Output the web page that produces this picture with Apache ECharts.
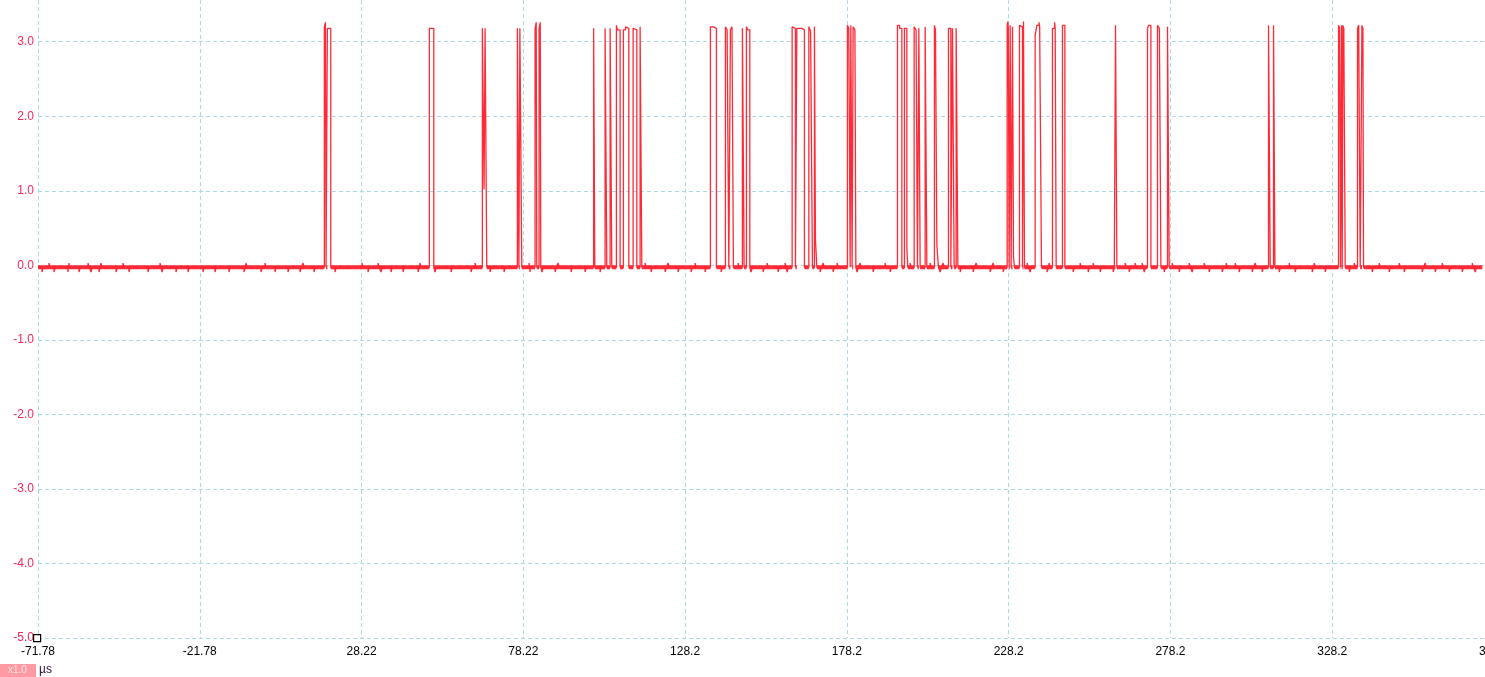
<!DOCTYPE html>
<html>
<head>
<meta charset="utf-8">
<script src="https://cdn.jsdelivr.net/npm/echarts@6/dist/echarts.min.js"></script>
<style>
html,body{margin:0;padding:0;background:#fff;}
#chart{width:1485px;height:677px;}
</style>
</head>
<body>
<div id="chart"></div>
<script>
// ---- data (time in µs, voltage in V) ----
const xTickLabels = ["-71.78","-21.78","28.22","78.22","128.2","178.2","228.2","278.2","328.2","378.2"];
const X_ORIGIN = -71.78;      // first tick of the time axis
const X_SPAN = 450;           // axis span in µs
const X_STEP = 50;
const Y_MIN = -5, Y_MAX = 3.56;
const LOW = -0.027;
const traceStart = -71.78, traceEnd = 374.6;

// [time µs, level V]: the signal takes this level from this time on
const pulseEdges = [
  [16.72,3.20],[17.05,3.26],[17.25,LOW],[17.65,3.18],[18.70,LOW],
  [49.18,3.18],[50.54,LOW],
  [65.56,3.18],[66.09,1.02],[66.40,3.18],[66.92,LOW],
  [76.38,3.18],[76.85,LOW],[77.15,3.18],[77.74,LOW],
  [81.85,3.18],[82.20,3.26],[82.38,LOW],
  [83.09,3.18],[83.45,3.26],[83.61,LOW],
  [99.94,3.18],[100.31,LOW],
  [103.49,3.18],[104.02,LOW],
  [105.04,3.18],[105.56,LOW],
  [106.99,3.22],[107.30,3.16],[108.13,LOW],
  [109.15,3.16],[109.80,3.20],[110.30,3.18],[110.82,LOW],
  [112.15,3.18],[112.70,3.16],[113.29,LOW],
  [114.31,3.20],[114.84,LOW],
  [136.04,3.20],[137.00,3.18],[137.90,LOW],
  [140.68,3.20],[141.20,3.16],[141.73,LOW],
  [142.22,3.16],[142.70,3.20],[143.15,LOW],
  [145.93,3.18],[146.46,LOW],
  [147.17,3.20],[147.60,3.16],[148.22,LOW],
  [161.30,3.20],[161.70,3.18],[162.32,LOW],
  [162.75,3.18],[164.30,3.20],[164.60,3.16],[165.10,LOW],
  [166.46,3.20],[167.00,3.14],[167.57,LOW],
  [168.19,3.20],[168.50,0.35],[168.93,LOW],
  [178.39,3.22],[178.80,3.18],[179.23,LOW],[179.44,3.22],[179.84,LOW],[180.15,3.20],[180.70,3.16],[180.99,LOW],
  [193.85,3.22],[194.50,3.18],[195.21,LOW],
  [196.01,3.18],[196.75,0.24],[197.06,LOW],
  [199.01,3.20],[199.60,3.16],[200.03,LOW],[200.46,3.18],[200.86,LOW],
  [202.41,3.20],[202.94,LOW],
  [205.28,3.22],[205.60,3.16],[206.03,0.27],[206.52,LOW],
  [209.61,3.18],[210.35,LOW],
  [210.85,3.18],[211.37,LOW],
  [211.99,3.18],[212.52,LOW],
  [227.76,3.22],[227.95,3.27],[228.10,3.20],[228.38,LOW],[228.68,3.22],[228.99,LOW],[229.40,3.20],[229.71,0.11],[230.02,LOW],
  [231.56,3.22],[232.00,3.20],[232.49,LOW],[232.80,3.27],[233.11,LOW],
  [236.41,3.09],[236.94,3.22],[237.60,3.26],[237.80,3.20],[238.36,LOW],
  [241.76,3.18],[242.40,3.26],[242.60,3.18],[242.90,LOW],
  [244.85,3.22],[245.59,LOW],
  [261.24,3.22],[261.67,LOW],
  [271.13,3.18],[271.50,3.22],[272.18,LOW],
  [274.22,3.22],[274.80,3.18],[275.27,LOW],
  [277.31,3.20],[277.84,LOW],
  [308.53,3.22],[309.06,LOW],
  [310.08,3.22],[310.51,LOW],
  [330.17,3.22],[330.50,3.18],[330.79,LOW],[331.10,3.22],[331.31,LOW],[331.53,3.22],[331.80,3.18],[332.24,LOW],
  [336.04,3.18],[336.40,3.22],[336.87,LOW],[337.40,3.22],[337.70,3.18],[337.90,LOW]
];

// brief noise dips / spikes on the low level (start times, µs)
const GLITCH_DOWN_LEVEL = -0.09, GLITCH_UP_LEVEL = 0.03, GLITCH_WIDTH = 0.35;
const glitchDown = [-70.54,-66.83,-62.51,-59.11,-55.40,-52.92,-47.67,-43.65,-37.78,-33.45,-29.12,-25.41,-20.78,-17.07,-12.74,-8.10,-2.85,1.48,5.50,9.21,13.54,20.03,30.23,34.25,37.34,41.05,45.69,50.94,55.89,62.07,67.94,72.27,80.31,84.02,88.04,92.98,97.31,101.95,117.71,122.04,126.06,130.08,134.40,139.35,148.62,152.33,156.97,159.75,169.95,173.97,181.39,186.34,191.59,198.70,207.05,213.23,217.25,222.50,226.52,234.87,240.12,248.16,252.80,256.51,260.52,265.47,270.11,276.29,280.93,284.94,290.20,294.22,299.47,303.49,306.58,311.84,316.78,322.04,326.06,333.48,340.59,345.84,350.48,356.04,360.06,364.39,368.41,372.43];
const glitchUp = [-68.38,-62.20,-56.32,-52.31,-45.51,-34.07,-7.48,-1.61,10.14,28.37,33.32,46.30,63.31,80.00,88.96,115.86,122.97,131.31,144.60,153.57,159.13,170.88,175.21,182.32,190.04,197.77,203.96,207.97,218.17,223.43,233.94,240.74,250.32,254.34,264.23,267.32,269.49,278.76,284.02,288.65,295.45,298.24,304.42,314.93,322.66,335.02,342.75,348.93,356.97,362.22,371.50];

// ---- build series from the data ----
const toAxis = t => t - X_ORIGIN;

// low intervals (used for the thick noisy baseline band)
const lowIntervals = [];
(function(){
  let cur = traceStart, isLow = true;
  for (const [t, v] of pulseEdges) {
    if (isLow && v !== LOW) { lowIntervals.push([cur, t]); isLow = false; }
    else if (!isLow && v === LOW) { cur = t; isLow = true; }
  }
  if (isLow) lowIntervals.push([cur, traceEnd]);
})();
const inLow = t => lowIntervals.some(([a, b]) => t > a + 0.05 && t + GLITCH_WIDTH < b - 0.05);

const events = pulseEdges.map(e => [e[0], e[1]]);
glitchDown.filter(inLow).forEach(t => { events.push([t, GLITCH_DOWN_LEVEL]); events.push([t + GLITCH_WIDTH, LOW]); });
glitchUp.filter(inLow).forEach(t => { events.push([t, GLITCH_UP_LEVEL]); events.push([t + GLITCH_WIDTH, LOW]); });
events.sort((a, b) => a[0] - b[0]);
const signal = [[toAxis(traceStart), LOW]].concat(events.map(e => [toAxis(e[0]), e[1]]), [[toAxis(traceEnd), LOW]]);

const band = [];
lowIntervals.forEach(([a, b]) => { band.push([toAxis(a), LOW]); band.push([toAxis(b), LOW]); band.push([toAxis(b), '-']); });

const RED = '#ff2a36';
const GRIDC = '#a9d9e3';

const chart = echarts.init(document.getElementById('chart'), null, {renderer: 'canvas'});
chart.setOption({
  animation: false,
  backgroundColor: '#ffffff',
  grid: {left: 38, right: -9, top: 0, bottom: 39, containLabel: false, outerBoundsMode: 'none'},
  xAxis: {
    type: 'value', min: 0, max: X_SPAN, interval: X_STEP,
    axisLine: {show: false}, axisTick: {show: false},
    axisLabel: {
      show: true, showMinLabel: true, showMaxLabel: true, margin: 8, hideOverlap: false,
      color: '#000', fontFamily: 'Liberation Sans', fontSize: 12,
      formatter: v => xTickLabels[Math.round(v / X_STEP)] ?? ''
    },
    splitLine: {show: true, lineStyle: {color: GRIDC, type: [4, 3], width: 1}}
  },
  yAxis: {
    type: 'value', min: Y_MIN, max: Y_MAX, interval: 1,
    axisLine: {show: false}, axisTick: {show: false},
    axisLabel: {
      showMaxLabel: false, margin: 4,
      color: '#f5285a', fontFamily: 'Liberation Sans', fontSize: 12,
      formatter: v => v.toFixed(1)
    },
    splitLine: {show: true, showMaxLine: false, lineStyle: {color: GRIDC, type: [4, 3], width: 1}}
  },
  series: [
    {type: 'line', data: band, showSymbol: false, connectNulls: false, silent: true,
     lineStyle: {color: RED, width: 4, cap: 'butt'}, z: 2},
    {type: 'line', data: signal, step: 'end', showSymbol: false, silent: true,
     lineStyle: {color: RED, width: 1.3, join: 'bevel'}, z: 3}
  ],
  graphic: [
    {type: 'rect', left: 33, top: 634, shape: {width: 7, height: 7},
     style: {fill: '#fff', stroke: '#000', lineWidth: 1.2}, z: 10},
    {type: 'rect', left: 0, top: 664, shape: {width: 36, height: 13},
     style: {fill: '#ff9aa2'}, z: 10},
    {type: 'text', left: 8, top: 665, style: {text: 'x1.0', fill: '#ffe4e6', font: '10px "Liberation Sans"'}, z: 11},
    {type: 'text', left: 39, top: 664, style: {text: 'µs', fill: '#2a0a3a', font: '12px "Liberation Sans"'}, z: 11}
  ]
});
</script>
</body>
</html>
